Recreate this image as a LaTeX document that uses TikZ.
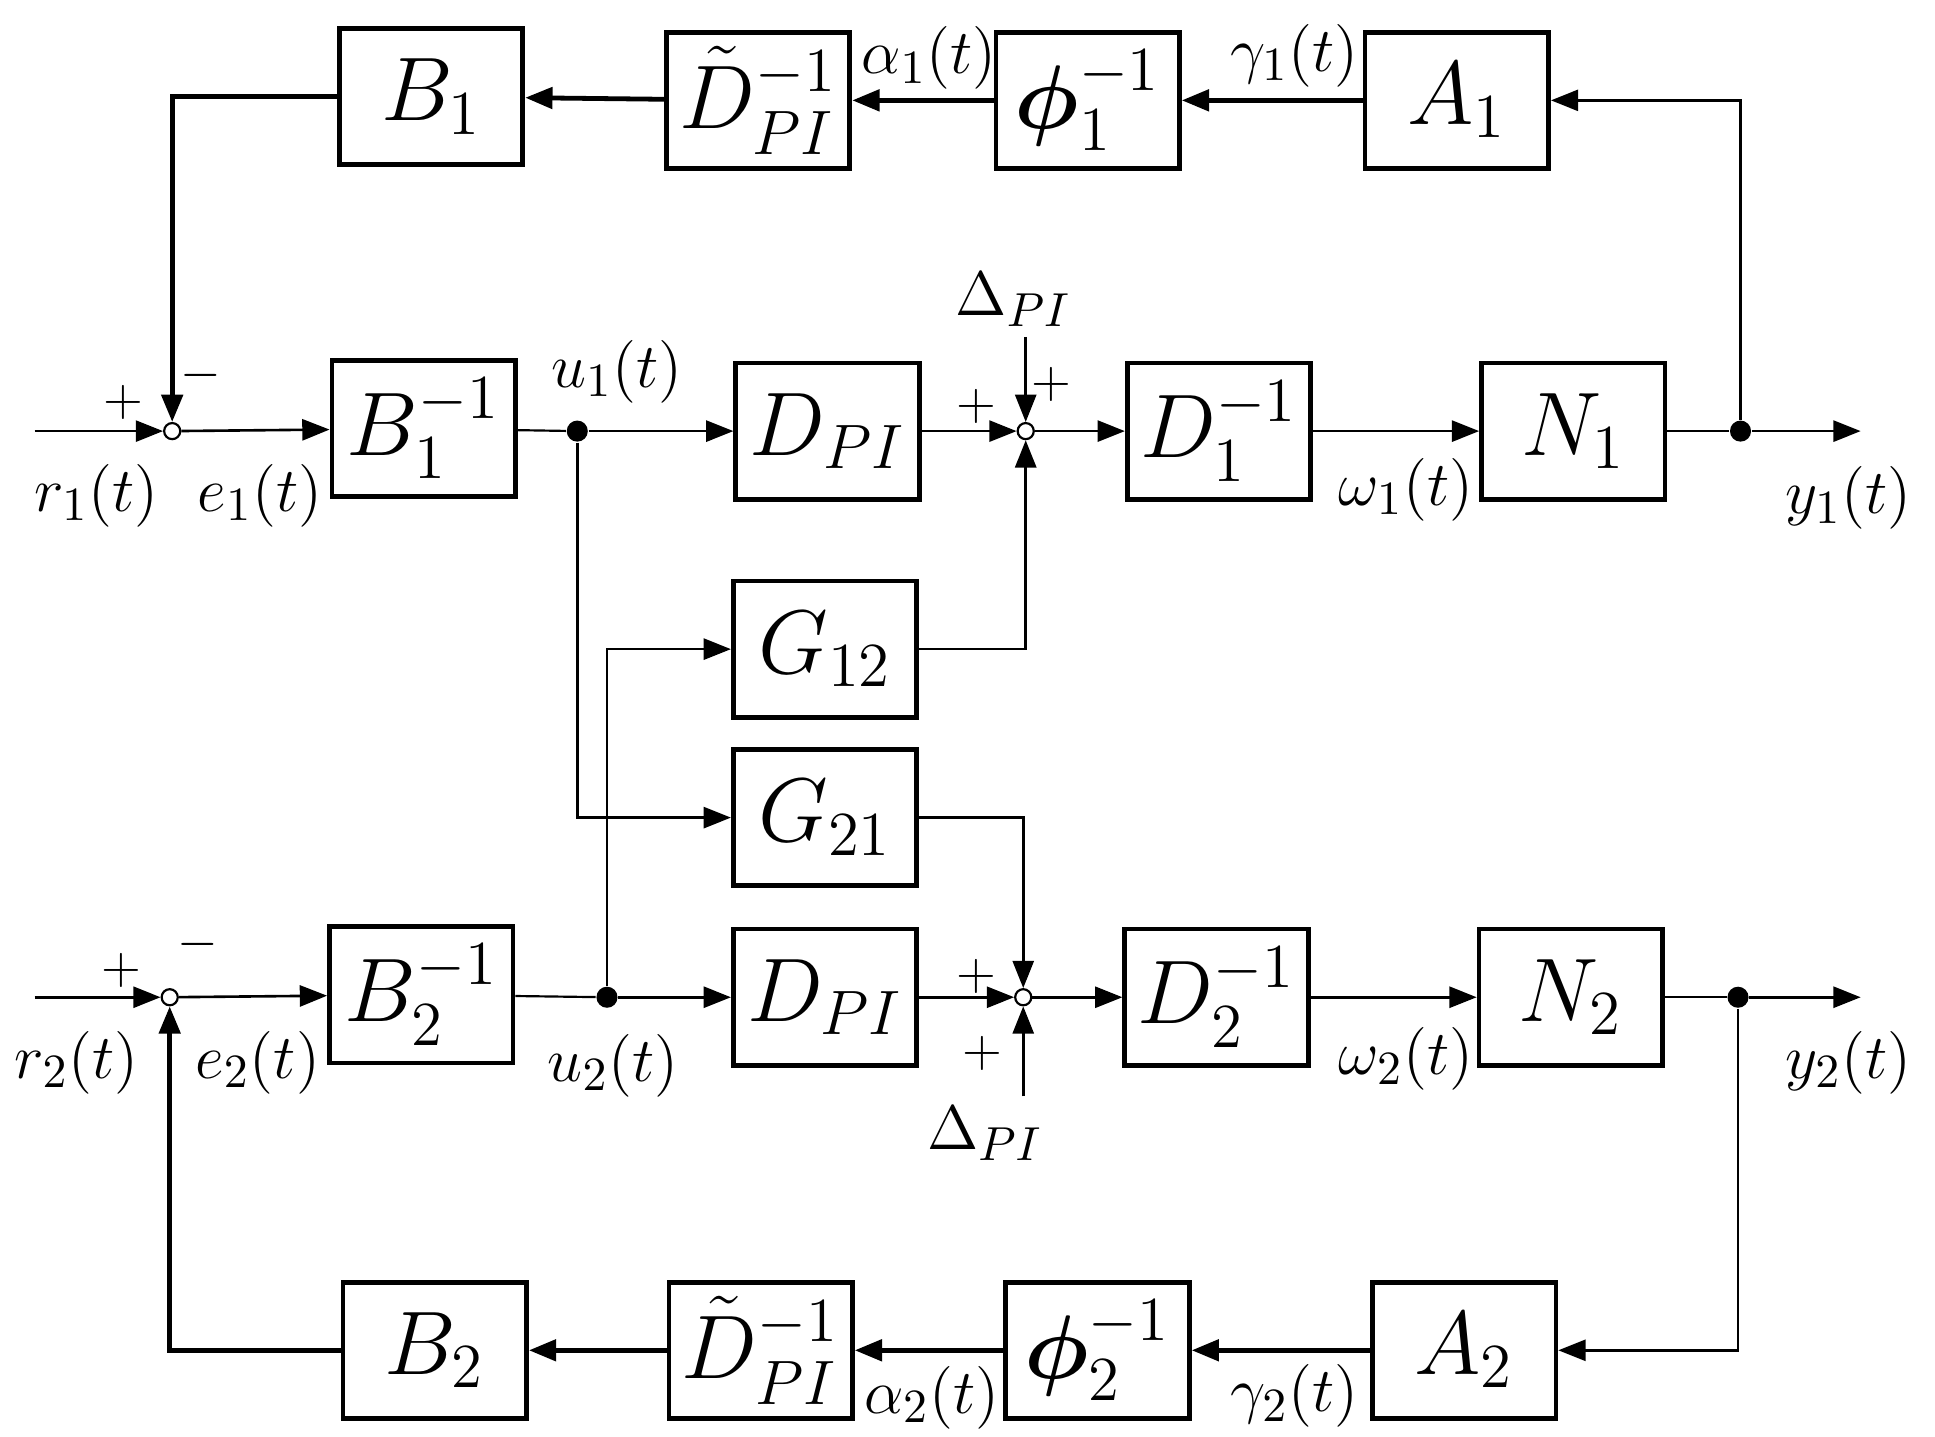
\documentclass[tikz,border=0pt]{standalone}
\usepackage{amsmath}
\usetikzlibrary{arrows.meta}
\begin{document}
\begin{tikzpicture}[x=0.01cm,y=-0.01cm,
 box/.style={draw,line width=1.1pt,minimum width=1.48cm,minimum height=1.1cm,inner sep=0pt,font=\fontsize{20}{24}\selectfont},
 sum/.style={draw,circle,inner sep=0pt,minimum size=0.13cm,line width=0.5pt},
 dot/.style={fill,circle,inner sep=0pt,minimum size=0.17cm},
 lab/.style={font=\fontsize{15.5}{18}\selectfont},
 sg/.style={font=\fontsize{13}{15}\selectfont},
 ln/.style={line width=0.5pt},
 ar/.style={line width=0.6pt,-{Triangle[length=0.22cm,width=0.17cm]}},
 tk/.style={line width=1.1pt,-{Triangle[length=0.22cm,width=0.17cm]}}]
\useasboundingbox (0,0) rectangle (1562,1160);
% top row
\node[box] (B1) at (348,78) {$B_1$};
\node[box] (Dt1) at (612,81) {$\tilde D_{PI}^{-1}$};
\node[box] (F1) at (878,81) {$\boldsymbol{\phi}_1^{-1}$};
\node[box] (A1) at (1176,81) {$A_1$};
% row 1
\node[sum] (S1) at (139,348) {};
\node[box] (Bi1) at (342,346) {$B_1^{-1}$};
\node[dot] (U1) at (466,348) {};
\node[box] (DP1) at (668,348) {$D_{PI}$};
\node[sum] (T1) at (828,348) {};
\node[box] (Di1) at (984,348) {$D_1^{-1}$};
\node[box] (N1) at (1270,348) {$N_1$};
\node[dot] (Y1) at (1405,348) {};
\coordinate (R1) at (28,348);
\coordinate (O1) at (1502,348);
\coordinate (P1) at (828,272);
% G
\node[box] (G12) at (666,524) {$G_{12}$};
\node[box] (G21) at (666,660) {$G_{21}$};
% row 2
\node[sum] (S2) at (137,805) {};
\node[box] (Bi2) at (340,803) {$B_2^{-1}$};
\node[dot] (U2) at (490,805) {};
\node[box] (DP2) at (666,805) {$D_{PI}$};
\node[sum] (T2) at (826,805) {};
\node[box] (Di2) at (982,805) {$D_2^{-1}$};
\node[box] (N2) at (1268,805) {$N_2$};
\node[dot] (Y2) at (1403,805) {};
\coordinate (R2) at (28,805);
\coordinate (O2) at (1502,805);
\coordinate (P2) at (826,885);
% bottom row
\node[box] (B2) at (351,1090) {$B_2$};
\node[box] (Dt2) at (614,1090) {$\tilde D_{PI}^{-1}$};
\node[box] (F2) at (886,1090) {$\boldsymbol{\phi}_2^{-1}$};
\node[box] (A2) at (1182,1090) {$A_2$};
% connectors row 1
\draw[ar] (R1) -- (S1);
\draw[ar] (S1) -- (Bi1);
\draw[ln] (Bi1) -- (U1);
\draw[ar] (U1) -- (DP1);
\draw[ar] (DP1) -- (T1);
\draw[ar] (P1) -- (T1);
\draw[ar] (T1) -- (Di1);
\draw[ar] (Di1) -- (N1);
\draw[ln] (N1) -- (Y1);
\draw[ar] (Y1) -- (O1);
% row 2
\draw[ar] (R2) -- (S2);
\draw[ar] (S2) -- (Bi2);
\draw[ln] (Bi2) -- (U2);
\draw[ar] (U2) -- (DP2);
\draw[ar] (DP2) -- (T2);
\draw[ar] (P2) -- (T2);
\draw[ar] (T2) -- (Di2);
\draw[ar] (Di2) -- (N2);
\draw[ln] (N2) -- (Y2);
\draw[ar] (Y2) -- (O2);
% cross coupling
\draw[ar] (U1) |- (G21);
\draw[ar] (U2) |- (G12);
\draw[ar] (G12) -| (T1);
\draw[ar] (G21) -| (T2);
% top feedback
\draw[ar] (Y1) |- (A1);
\draw[tk] (A1) -- (F1);
\draw[tk] (F1) -- (Dt1);
\draw[tk] (Dt1) -- (B1);
\draw[tk] (B1.west) -| (S1);
% bottom feedback
\draw[ar] (Y2) |- (A2);
\draw[tk] (A2) -- (F2);
\draw[tk] (F2) -- (Dt2);
\draw[tk] (Dt2) -- (B2);
\draw[tk] (B2.west) -| (S2);
% labels
\node[lab] at (78,400) {$r_1(t)$};
\node[lab] at (210,400) {$e_1(t)$};
\node[lab] at (498,300) {$u_1(t)$};
\node[lab] at (1135,395) {$\omega_1(t)$};
\node[lab] at (1492,402) {$y_1(t)$};
\node[lab] at (818,242) {$\Delta_{PI}$};
\node[lab] at (1045,45) {$\gamma_1(t)$};
\node[lab] at (750,47) {$\alpha_1(t)$};
\node[lab] at (62,858) {$r_2(t)$};
\node[lab] at (208,858) {$e_2(t)$};
\node[lab] at (495,860) {$u_2(t)$};
\node[lab] at (1135,855) {$\omega_2(t)$};
\node[lab] at (1492,858) {$y_2(t)$};
\node[lab] at (795,915) {$\Delta_{PI}$};
\node[lab] at (1045,1127) {$\gamma_2(t)$};
\node[lab] at (752,1128) {$\alpha_2(t)$};
% signs
\node[sg] at (100,325) {$+$};
\node[sg] at (162,303) {$-$};
\node[sg] at (788,328) {$+$};
\node[sg] at (849,310) {$+$};
\node[sg] at (98,783) {$+$};
\node[sg] at (160,762) {$-$};
\node[sg] at (788,788) {$+$};
\node[sg] at (793,850) {$+$};
\end{tikzpicture}
\end{document}
